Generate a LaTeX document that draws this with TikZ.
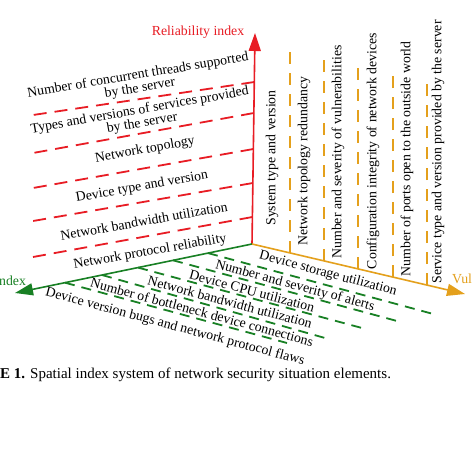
\documentclass[tikz,border=0pt]{standalone}
\usepackage{fontspec}
\setmainfont{Liberation Serif}
\usetikzlibrary{arrows.meta}
\definecolor{axred}{RGB}{232,28,36}
\definecolor{axgreen}{RGB}{24,128,36}
\definecolor{axorange}{RGB}{228,160,28}
\begin{document}
\begin{tikzpicture}[x=1pt,y=-1pt,
  lbl/.style={font=\fontsize{13.8}{13}\selectfont, inner sep=0pt, align=center, text=black},
  axisline/.style={line width=1.6pt,-{Triangle[length=18pt,width=12pt]}},
  rdash/.style={axred,line width=1.8pt,dash pattern=on 13pt off 8pt},
  gdash/.style={axgreen,line width=1.8pt,dash pattern=on 10pt off 7pt},
  odash/.style={axorange,line width=1.8pt,dash pattern=on 12pt off 9pt},
  axlbl/.style={font=\fontsize{13.8}{14}\selectfont, inner sep=0pt}]
\useasboundingbox (0,0) rectangle (474,474);
\clip (0,0) rectangle (474,474);
\fill[white] (0,0) rectangle (474,474);

% axes
\coordinate (O) at (252,244);
\coordinate (Rtip) at (255,33);
\coordinate (Gtip) at (15,293);
\coordinate (Otip) at (465,294);

% red dashed lines (red-green plane)
\coordinate (r1a) at (254.3,82);  \coordinate (r1b) at (33,115);
\coordinate (r2a) at (253.9,113); \coordinate (r2b) at (33,153);
\coordinate (r3a) at (253.4,149); \coordinate (r3b) at (33,188);
\coordinate (r4a) at (252.9,183); \coordinate (r4b) at (33,221);
\coordinate (r5a) at (252.4,217); \coordinate (r5b) at (33,257);
\foreach \i in {1,...,5} {\draw[rdash] (r\i a) -- (r\i b);}

% orange dashed lines (red-orange plane)
\coordinate (o1a) at (290,252.9); \coordinate (o1b) at (290,51);
\coordinate (o2a) at (324,260.9); \coordinate (o2b) at (324,59);
\coordinate (o3a) at (358,268.9); \coordinate (o3b) at (358,68);
\coordinate (o4a) at (393,277.1); \coordinate (o4b) at (393,76);
\coordinate (o5a) at (427,285.1); \coordinate (o5b) at (427,83);
\foreach \i in {1,...,5} {\draw[odash] (o\i a) -- (o\i b);}

% green dashed lines (green-orange plane)
\coordinate (g1a) at (208,253.1); \coordinate (g1b) at (437,315);
\coordinate (g2a) at (173,260.3); \coordinate (g2b) at (397,321);
\coordinate (g3a) at (138,267.6); \coordinate (g3b) at (362,328);
\coordinate (g4a) at (102,275);   \coordinate (g4b) at (325,338);
\coordinate (g5a) at (65,282.7);  \coordinate (g5b) at (287,343);
\foreach \i in {1,...,5} {\draw[gdash] (g\i a) -- (g\i b);}

\draw[axisline,axred] (O) -- (Rtip);
\draw[axisline,axgreen] (O) -- (Gtip);
\draw[axisline,axorange] (O) -- (Otip);

% axis labels
\node[axlbl,text=axred] (lr) at (198,32) {Reliability index};
\node[axlbl,text=axgreen,anchor=west] (lg) at (-1,281) {ndex};
\node[axlbl,text=axorange,anchor=west] (lo) at (452,279) {Vul};

% red-plane labels
\node[lbl,rotate=9.5] (t1) at (139,82) {Number of concurrent threads supported\\by the server};
\node[lbl,rotate=10] (t2) at (141,117) {Types and versions of services provided\\by the server};
\node[lbl,rotate=10] (t3) at (145,150) {Network topology};
\node[lbl,rotate=10] (t4) at (142,187) {Device type and version};
\node[lbl,rotate=10] (t5) at (144,221) {Network bandwidth utilization};
\node[lbl,rotate=10] (t6) at (150,252) {Network protocol reliability};

% orange-plane labels
\node[lbl,rotate=90] (v1) at (272,158) {System type and version};
\node[lbl,rotate=90] (v2) at (304,161) {Network topology redundancy};
\node[lbl,rotate=90] (v3) at (338,152) {Number and severity of vulnerabilities};
\node[lbl,rotate=90] (v4) at (373,151) {Configuration integrity of network devices};
\node[lbl,rotate=90] (v5) at (407,159) {Number of ports open to the outside world};
\node[lbl,rotate=90] (v6) at (438,152) {Service type and version provided by the server};

% green-plane labels
\node[lbl,rotate=-15] (h1) at (328,274) {Device storage utilization};
\node[lbl,rotate=-15] (h2) at (295,286) {Number and severity of alerts};
\node[lbl,rotate=-15] (h3) at (252,291) {Device CPU utilization};
\node[lbl,rotate=-15] (h4) at (230,302) {Network bandwidth utilization};
\node[lbl,rotate=-15] (h5) at (202,312) {Number of bottleneck device connections};
\node[lbl,rotate=-15] (h6) at (175,327) {Device version bugs and network protocol flaws};

% caption
\node[anchor=base west,inner sep=0pt,font=\fontsize{15}{16}\selectfont] (cap) at (0,378)
  {\textbf{E 1.} Spatial index system of network security situation elements.};
\end{tikzpicture}
\end{document}
